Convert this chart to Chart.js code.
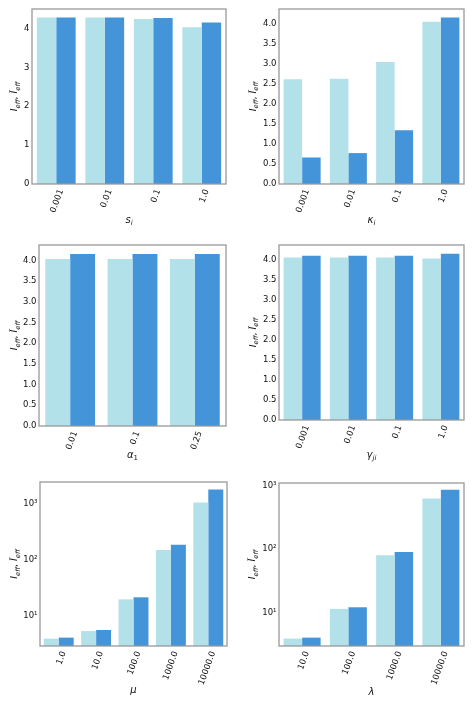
<!DOCTYPE html>
<html>
<head>
<meta charset="utf-8">
<script src="https://cdn.jsdelivr.net/npm/chart.js@4.4.0/dist/chart.umd.min.js"></script>
<style>
  body { margin: 0; background: #fff; }
  #wrap { position: relative; width: 474px; height: 707px; }
  canvas { position: absolute; }
</style>
</head>
<body>
<div id="wrap"></div>
<script>
// valeurs (clair = I_eff, foncé = Ĩ_eff)
const sLabels = ['0.001', '0.01', '0.1', '1.0'];
const sLight = [4.28, 4.28, 4.24, 4.03];
const sDark = [4.28, 4.28, 4.27, 4.15];

const kappaLabels = ['0.001', '0.01', '0.1', '1.0'];
const kappaLight = [2.61, 2.62, 3.04, 4.04];
const kappaDark = [0.66, 0.77, 1.34, 4.15];

const alphaLabels = ['0.01', '0.1', '0.25'];
const alphaLight = [4.03, 4.03, 4.03];
const alphaDark = [4.15, 4.15, 4.15];

const gammaLabels = ['0.001', '0.01', '0.1', '1.0'];
const gammaLight = [4.06, 4.06, 4.06, 4.03];
const gammaDark = [4.10, 4.10, 4.10, 4.15];

const muLabels = ['1.0', '10.0', '100.0', '1000.0', '10000.0'];
const muLight = [3.96, 5.4, 19.8, 150, 1042];
const muDark = [4.13, 5.64, 21.5, 185, 1775];

const lambdaLabels = ['10.0', '100.0', '1000.0', '10000.0'];
const lambdaLight = [3.97, 11.6, 80.5, 625];
const lambdaDark = [4.11, 12.3, 90.7, 857];

// graduations
const yTicksInt = [0, 1, 2, 3, 4];
const yTicksHalf = [0, 0.5, 1, 1.5, 2, 2.5, 3, 3.5, 4];
const logMajor = [10, 100, 1000];
const logMajorLabels = ['10¹', '10²', '10³'];

const lightColor = '#b3e1ea';
const darkColor = '#4494da';
const textColor = '#111';
const tickFont = { family: 'DejaVu Sans', size: 8.5 };

// titre des axes : [texte, indice?, droit?]
const yTitle = [['I'], ['eff', 1], [', ', 0, 1], ['Ĩ'], ['eff', 1]];

function drawMath(ctx, parts, x, y, size, rotate) {
    ctx.save();
    ctx.translate(x, y);
    if (rotate) ctx.rotate(-Math.PI / 2);
    const fonts = parts.map(p => (p[2] ? '' : 'italic ') + (p[1] ? size * 0.7 : size) + 'px "DejaVu Sans"');
    let total = 0;
    const widths = parts.map((p, i) => {
        ctx.font = fonts[i];
        const w = ctx.measureText(p[0]).width;
        total += w;
        return w;
    });
    let cx = -total / 2;
    ctx.fillStyle = textColor;
    ctx.textAlign = 'left';
    ctx.textBaseline = 'middle';
    parts.forEach((p, i) => {
        ctx.font = fonts[i];
        ctx.fillText(p[0], cx, p[1] ? size * 0.3 : 0);
        cx += widths[i];
    });
    ctx.restore();
}

const panels = [
    { cell: [0, 0, 237, 235], plot: [32, 9, 226, 184], labels: sLabels, light: sLight, dark: sDark,
      yKind: 'int', yMax: 4.5, xTitle: [['s'], ['i', 1]], xTitleY: 220, yTitleX: 15 },
    { cell: [237, 0, 474, 235], plot: [279, 9, 464, 184], labels: kappaLabels, light: kappaLight, dark: kappaDark,
      yKind: 'half', yMax: 4.36, xTitle: [['κ'], ['i', 1]], xTitleY: 220, yTitleX: 253.5 },
    { cell: [0, 235, 237, 470], plot: [39, 245, 226, 426], labels: alphaLabels, light: alphaLight, dark: alphaDark,
      yKind: 'half', yMax: 4.37, xTitle: [['α'], ['1', 1, 1]], xTitleY: 455, yTitleX: 15 },
    { cell: [237, 235, 474, 470], plot: [279, 245, 464, 420], labels: gammaLabels, light: gammaLight, dark: gammaDark,
      yKind: 'half', yMax: 4.37, xTitle: [['γ'], ['ji', 1]], xTitleY: 455, yTitleX: 253.5 },
    { cell: [0, 470, 237, 707], plot: [40, 482, 227, 646], labels: muLabels, light: muLight, dark: muDark,
      yKind: 'log', yMin: 2.93, yMax: 2420, xTitle: [['μ']], xTitleY: 690, yTitleX: 15 },
    { cell: [237, 470, 474, 707], plot: [279, 483, 464, 646], labels: lambdaLabels, light: lambdaLight, dark: lambdaDark,
      yKind: 'log', yMin: 3.04, yMax: 1092, xTitle: [['λ']], xTitleY: 692, yTitleX: 253 }
];

function yScale(p) {
    const common = {
        grid: { display: false, drawTicks: false },
        border: { display: false },
        afterFit: s => { s.width = p.plot[0] - p.cell[0]; }
    };
    if (p.yKind === 'log') {
        return Object.assign(common, {
            type: 'logarithmic', min: p.yMin, max: p.yMax,
            afterBuildTicks: s => { s.ticks = logMajor.map(v => ({ value: v })); },
            ticks: { font: tickFont, color: textColor, padding: 2.5, autoSkip: false,
                     callback: v => logMajorLabels[logMajor.indexOf(v)] }
        });
    }
    const list = p.yKind === 'int' ? yTicksInt : yTicksHalf;
    return Object.assign(common, {
        type: 'linear', min: 0, max: p.yMax,
        afterBuildTicks: s => { s.ticks = list.map(v => ({ value: v })); },
        ticks: { font: tickFont, color: textColor, padding: 2.5, autoSkip: false,
                 callback: v => p.yKind === 'int' ? String(v) : v.toFixed(1) }
    });
}

const framePlugin = {
    id: 'frame',
    afterDraw(chart, args, opts) {
        const a = chart.chartArea;
        const ctx = chart.ctx;
        const p = opts.panel;
        ctx.save();
        ctx.strokeStyle = '#999';
        ctx.lineWidth = 1.3;
        ctx.strokeRect(a.left, a.top, a.right - a.left, a.bottom - a.top);
        ctx.restore();
        // titres d'axes
        drawMath(ctx, p.xTitle, (a.left + a.right) / 2, p.xTitleY - p.cell[1], 10, false);
        drawMath(ctx, yTitle, p.yTitleX - p.cell[0], (a.top + a.bottom) / 2, 9.5, true);
    }
};

const wrap = document.getElementById('wrap');

panels.forEach(p => {
    const canvas = document.createElement('canvas');
    const w = p.cell[2] - p.cell[0];
    const h = p.cell[3] - p.cell[1];
    canvas.width = w;
    canvas.height = h;
    canvas.style.left = p.cell[0] + 'px';
    canvas.style.top = p.cell[1] + 'px';
    canvas.style.width = w + 'px';
    canvas.style.height = h + 'px';
    wrap.appendChild(canvas);

    const n = p.labels.length;

    new Chart(canvas, {
        type: 'bar',
        data: {
            datasets: [
                { data: p.light.map((v, i) => ({ x: i, y: v })), backgroundColor: lightColor, borderWidth: 0 },
                { data: p.dark.map((v, i) => ({ x: i, y: v })), backgroundColor: darkColor, borderWidth: 0 }
            ]
        },
        options: {
            responsive: false,
            animation: false,
            devicePixelRatio: 1,
            categoryPercentage: 0.8,
            barPercentage: 1.0,
            layout: { padding: { left: 0, top: p.plot[1] - p.cell[1], right: p.cell[2] - p.plot[2], bottom: 0 } },
            plugins: {
                legend: { display: false },
                tooltip: { enabled: false },
                frame: { panel: p }
            },
            scales: {
                x: {
                    type: 'linear', offset: false, min: -0.5, max: n - 0.5,
                    grid: { display: false, offset: false, drawTicks: false },
                    border: { display: false },
                    afterBuildTicks: s => { s.ticks = p.labels.map((_, i) => ({ value: i })); },
                    afterFit: s => { s.height = p.cell[3] - p.plot[3]; },
                    ticks: { font: tickFont, color: textColor, autoSkip: false, minRotation: 70, maxRotation: 70,
                             padding: 4, labelOffset: 5, callback: v => p.labels[v] }
                },
                y: yScale(p)
            }
        },
        plugins: [framePlugin]
    });
});
</script>
</body>
</html>
